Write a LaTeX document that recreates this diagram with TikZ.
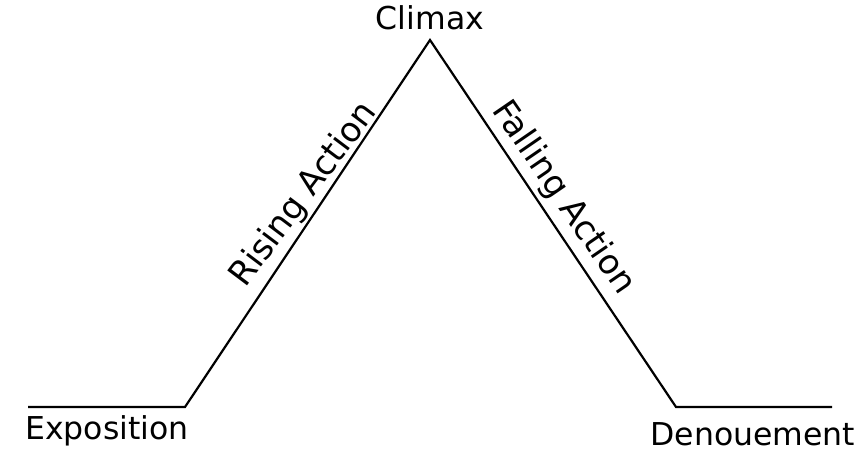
\documentclass[tikz,border=0pt]{standalone}
\usepackage{fontspec}
\setmainfont{DejaVu Sans}
\begin{document}
\begin{tikzpicture}[x=1pt,y=-1pt,lbl/.style={font=\fontsize{31.5}{34}\selectfont,inner sep=0pt},slbl/.style={font=\fontsize{34}{36}\selectfont,inner sep=0pt}]
\useasboundingbox (0,0) rectangle (865,454);
\coordinate (a) at (28,407);
\coordinate (b) at (185,407);
\coordinate (c) at (430,40);
\coordinate (d) at (676,407);
\coordinate (e) at (832,407);
\draw[line width=2.2pt] (a) -- (b) -- (c) -- (d) -- (e);
\node[lbl] (climax) at (430,18) {Climax};
\node[lbl] (expo) at (107,431) {Exposition};
\node[lbl] (deno) at (753,434) {Denouement};
\node[slbl,rotate=53] (rise) at (304,195) {Rising Action};
\node[slbl,rotate=-55.5] (fall) at (563,198) {Falling Action};
\end{tikzpicture}
\end{document}
